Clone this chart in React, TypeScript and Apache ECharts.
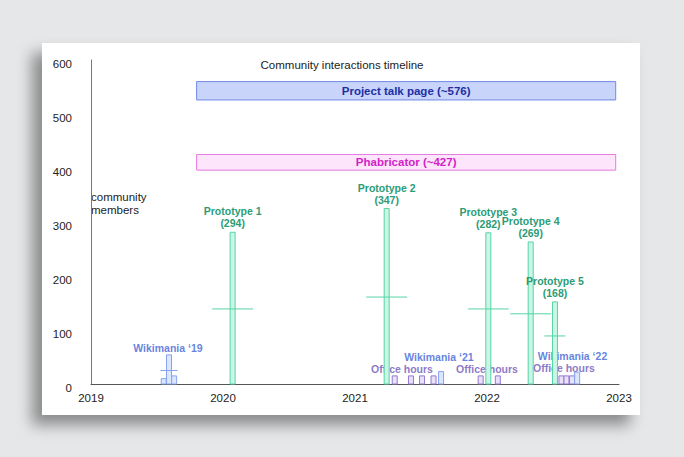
import React, { useEffect, useRef } from 'react';
import * as echarts from 'echarts';

// time is in decimal years, counts are community members
const yearTicks = [2019, 2020, 2021, 2022, 2023];

// long-running channels (horizontal bands)
const rangeNames = ['Project talk page (~576)', 'Phabricator (~427)'];
const rangeStart = [2019.8, 2019.8];
const rangeEnd = [2022.975, 2022.975];
const rangeLow = [526, 396];
const rangeHigh = [560, 425];

// prototype feedback rounds
const protoNames = ['Prototype 1', 'Prototype 2', 'Prototype 3', 'Prototype 4', 'Prototype 5'];
const protoCounts = [294, 347, 282, 269, 168];
const protoDates = [2020.073, 2021.24, 2022.01, 2022.331, 2022.515];
const protoHeights = [281, 325, 280, 263, 152];
const protoMids = [139, 161, 139, 130, 89];
const protoSpans = [0.31, 0.31, 0.31, 0.31, 0.16];

// small events: wikimania sessions and office hours
const eventKinds = [
  'wikimania', 'wikimania', 'wikimania',
  'office', 'office', 'office', 'office', 'wikimania',
  'office', 'office',
  'office', 'office', 'office', 'wikimania',
];
const eventDates = [
  2019.551, 2019.591, 2019.63,
  2021.301, 2021.424, 2021.508, 2021.595, 2021.652,
  2021.952, 2022.082,
  2022.564, 2022.602, 2022.644, 2022.683,
];
const eventValues = [10, 54, 15, 15, 15, 15, 15, 23, 15, 15, 15, 15, 15, 22];
const eventMids = [0, 25, 0, 0, 0, 0, 0, 0, 0, 0, 0, 0, 0, 0];
const eventSpans = [0, 0.13, 0, 0, 0, 0, 0, 0, 0, 0, 0, 0, 0, 0];

// event labels
const noteTexts = ['Wikimania ‘19', 'Office hours', 'Wikimania ‘21', 'Office hours', 'Office hours', 'Wikimania ‘22'];
const noteKinds = ['wikimania', 'office', 'wikimania', 'office', 'office', 'wikimania'];
const noteDates = [2019.583, 2021.356, 2021.636, 2022.0, 2022.583, 2022.648];
const noteValues = [67, 28, 50, 28, 30, 51];

const FONT = '"Liberation Sans", Arial, sans-serif';

const kindStyle: Record<string, { fill: string; stroke: string; text: string }> = {
  wikimania: { fill: '#dce6fd', stroke: '#86a4f0', text: '#3d63d6' },
  office: { fill: '#e9e1f8', stroke: '#9479d2', text: '#6d55b8' },
};
const rangeStyle = [
  { fill: '#c8d4f9', stroke: '#7089e6', text: '#1d2fa6' },
  { fill: '#fde6fb', stroke: '#e57ce0', text: '#d21fc9' },
];
const protoStyle = { fill: '#cbf6e6', stroke: '#56d4a6', text: '#2c9c76' };

const App: React.FC = () => {
  const chartRef = useRef<HTMLDivElement | null>(null);

  useEffect(() => {
    if (!chartRef.current) return;
    const chart = echarts.init(chartRef.current, null, { renderer: 'svg' });

    const option = {
      animation: false,
      title: {
        text: 'Community interactions timeline',
        left: 'center',
        top: 54,
        textStyle: { fontFamily: FONT, fontSize: 11.5, fontWeight: 'normal', color: '#222' },
      },
      grid: { left: 91, right: 65, top: 60, bottom: 73, outerBoundsMode: 'none' },
      xAxis: {
        type: 'value',
        min: 2019,
        max: 2023,
        interval: 1,
        axisLine: { show: true, lineStyle: { color: '#555', width: 1 } },
        axisTick: { show: false },
        splitLine: { show: false },
        axisLabel: {
          margin: 8,
          fontFamily: FONT,
          fontSize: 11.5,
          color: '#222',
          formatter: (v: number) => (yearTicks.includes(v) ? String(v) : ''),
        },
      },
      yAxis: {
        type: 'value',
        min: 0,
        max: 600,
        interval: 100,
        axisLine: { show: true, lineStyle: { color: '#777', width: 1 } },
        axisTick: { show: false },
        splitLine: { show: false },
        axisLabel: {
          margin: 19,
          fontFamily: FONT,
          fontSize: 11.5,
          color: '#222',
          verticalAlign: 'top',
          lineHeight: 7,
        },
      },
      graphic: [
        {
          type: 'text',
          left: 91,
          top: 190,
          style: { text: 'community\nmembers', font: `11.5px ${FONT}`, fill: '#222', lineHeight: 13 },
        },
      ],
      series: [
        {
          type: 'scatter',
          z: 1,
          symbolSize: 0,
          silent: true,
          data: noteTexts.map((t, i) => ({
            name: t,
            value: [noteDates[i], noteValues[i]],
            label: { color: kindStyle[noteKinds[i]].text },
          })),
          label: {
            show: true,
            position: 'inside',
            formatter: '{b}',
            fontFamily: FONT,
            fontSize: 10.5,
            fontWeight: 'bold',
          },
        },
        {
          type: 'custom',
          z: 3,
          data: rangeStart.map((s, i) => [s, rangeEnd[i], rangeLow[i], rangeHigh[i]]),
          encode: { x: [0, 1], y: [2, 3] },
          renderItem: (params: any, api: any) => {
            const i = params.dataIndex;
            const p0 = api.coord([api.value(0), api.value(3)]);
            const p1 = api.coord([api.value(1), api.value(2)]);
            const st = rangeStyle[i];
            return {
              type: 'group',
              children: [
                {
                  type: 'rect',
                  shape: { x: p0[0], y: p0[1], width: p1[0] - p0[0], height: p1[1] - p0[1] },
                  style: { fill: st.fill, stroke: st.stroke, lineWidth: 1 },
                },
                {
                  type: 'text',
                  style: {
                    text: rangeNames[i],
                    x: (p0[0] + p1[0]) / 2,
                    y: (p0[1] + p1[1]) / 2,
                    align: 'center',
                    verticalAlign: 'middle',
                    textAlign: 'center',
                    textVerticalAlign: 'middle',
                    font: `bold 11.5px ${FONT}`,
                    fill: st.text,
                  },
                },
              ],
            };
          },
        },
        {
          type: 'custom',
          z: 3,
          data: eventDates.map((d, i) => [d, eventValues[i], eventMids[i], eventSpans[i]]),
          encode: { x: 0, y: 1 },
          renderItem: (params: any, api: any) => {
            const i = params.dataIndex;
            const st = kindStyle[eventKinds[i]];
            const top = api.coord([api.value(0), api.value(1)]);
            const base = api.coord([api.value(0), 0]);
            const children: any[] = [
              {
                type: 'rect',
                shape: { x: top[0] - 2.5, y: top[1], width: 5, height: base[1] - top[1] },
                style: { fill: st.fill, stroke: st.stroke, lineWidth: 1 },
              },
            ];
            const span = api.value(3);
            if (span > 0) {
              const a = api.coord([api.value(0) - span / 2, api.value(2)]);
              const b = api.coord([api.value(0) + span / 2, api.value(2)]);
              children.push({
                type: 'line',
                shape: { x1: a[0], y1: a[1], x2: b[0], y2: b[1] },
                style: { stroke: st.stroke, lineWidth: 1 },
              });
            }
            return { type: 'group', children };
          },
        },
        {
          type: 'custom',
          z: 4,
          data: protoDates.map((d, i) => [d, protoHeights[i], protoMids[i], protoSpans[i]]),
          encode: { x: 0, y: 1 },
          renderItem: (params: any, api: any) => {
            const i = params.dataIndex;
            const top = api.coord([api.value(0), api.value(1)]);
            const base = api.coord([api.value(0), 0]);
            const span = api.value(3);
            const a = api.coord([api.value(0) - span / 2, api.value(2)]);
            const b = api.coord([api.value(0) + span / 2, api.value(2)]);
            return {
              type: 'group',
              children: [
                {
                  type: 'rect',
                  shape: { x: top[0] - 2.5, y: top[1], width: 5, height: base[1] - top[1] },
                  style: { fill: protoStyle.fill, stroke: protoStyle.stroke, lineWidth: 1 },
                },
                {
                  type: 'line',
                  shape: { x1: a[0], y1: a[1], x2: b[0], y2: b[1] },
                  style: { stroke: protoStyle.stroke, lineWidth: 1 },
                },
                {
                  type: 'text',
                  style: {
                    text: `${protoNames[i]}\n(${protoCounts[i]})`,
                    x: top[0],
                    y: top[1] - 3,
                    align: 'center',
                    verticalAlign: 'bottom',
                    textAlign: 'center',
                    textVerticalAlign: 'bottom',
                    lineHeight: 12,
                    font: `bold 10.5px ${FONT}`,
                    fill: protoStyle.text,
                  },
                },
              ],
            };
          },
        },
      ],
    };

    chart.setOption(option);
    return () => {
      chart.dispose();
    };
  }, []);

  return (
    <div style={{ position: 'fixed', left: 0, top: 0, width: 684, height: 457, background: '#e5e7e8', overflow: 'hidden' }}>
      <div
        style={{
          position: 'absolute',
          left: 42,
          top: 43,
          width: 598,
          height: 372,
          background: '#fff',
          boxShadow: '-10px 10px 14px rgba(0,0,0,0.4)',
        }}
      />
      <div ref={chartRef} style={{ position: 'absolute', left: 0, top: 0, width: 684, height: 457 }} />
    </div>
  );
};

export default App;
